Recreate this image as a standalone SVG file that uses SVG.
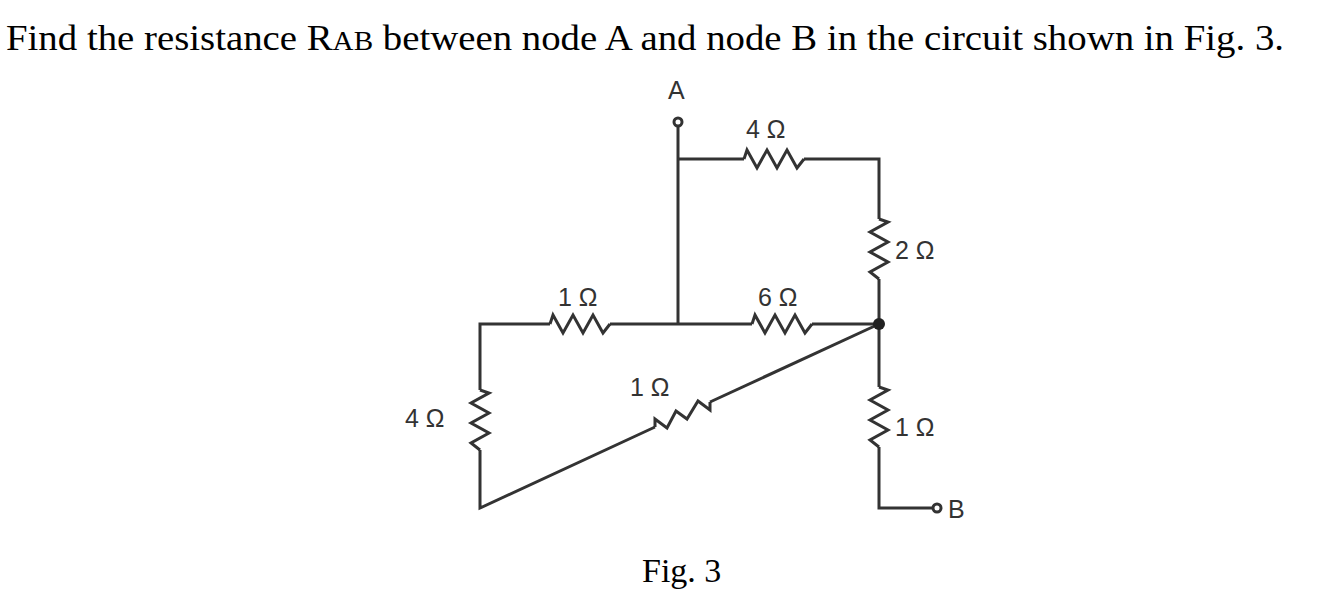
<svg xmlns="http://www.w3.org/2000/svg" width="1340" height="606" viewBox="0 0 1340 606">
<style>
.w{fill:none;stroke:#333;stroke-width:3;stroke-linejoin:miter}
.l{font-family:"Liberation Sans","DejaVu Sans",sans-serif;font-size:25px;fill:#333}
.t{font-family:"Liberation Serif",serif;fill:#000}
</style>
<defs>
<polyline id="rh" class="w" points="0,0 3,-9 13,9 23,-9 33,9 43,-9 53,9 60,0"/>
</defs>
<rect width="1340" height="606" fill="#fff"/>
<text class="t" x="6" y="50" font-size="36" textLength="1278" lengthAdjust="spacingAndGlyphs">Find the resistance R<tspan font-size="27">AB</tspan> between node A and node B in the circuit shown in Fig. 3.</text>
<g id="connectors">
<polyline class="w" points="678,127 678,324"/>
<polyline class="w" points="678,159 744,159"/>
<polyline class="w" points="804,159 879,159 879,219"/>
<polyline class="w" points="879,279 879,387"/>
<polyline class="w" points="879,447 879,508 933,508"/>
<polyline class="w" points="480,390 480,324 550,324"/>
<polyline class="w" points="610,324 752,324"/>
<polyline class="w" points="812,324 879,324"/>
<polyline class="w" points="480,450 480,508 655,427"/>
<polyline class="w" points="710,402 879,324"/>
</g>
<g id="R4top"><use href="#rh" x="744" y="159"/><text class="l" x="746" y="138">4 Ω</text></g>
<g id="R2"><use href="#rh" transform="translate(879,219) rotate(90)"/><text class="l" x="895" y="259">2 Ω</text></g>
<g id="R1left"><use href="#rh" x="550" y="324"/><text class="l" x="558" y="306">1 Ω</text></g>
<g id="R6"><use href="#rh" x="752" y="324"/><text class="l" x="758" y="306">6 Ω</text></g>
<g id="R4left"><use href="#rh" transform="translate(480,390) rotate(90)"/><text class="l" x="405" y="427">4 Ω</text></g>
<g id="R1right"><use href="#rh" transform="translate(879,387) rotate(90)"/><text class="l" x="895" y="436">1 Ω</text></g>
<g id="R1diag"><polyline class="w" points="655,427 655,419 667,428 676,411 687,419 698,401 710,410 710,402"/><text class="l" x="630" y="396">1 Ω</text></g>
<g id="nodeA"><circle cx="678" cy="122" r="4" fill="#fff" stroke="#333" stroke-width="3"/><text class="l" x="668" y="99">A</text></g>
<g id="nodeB"><circle cx="937" cy="508" r="4" fill="#fff" stroke="#333" stroke-width="3"/><text class="l" x="948" y="518">B</text></g>
<g id="junction"><circle cx="879" cy="324" r="6" fill="#222"/></g>
<text class="t" x="642" y="582" font-size="34">Fig. 3</text>
</svg>
